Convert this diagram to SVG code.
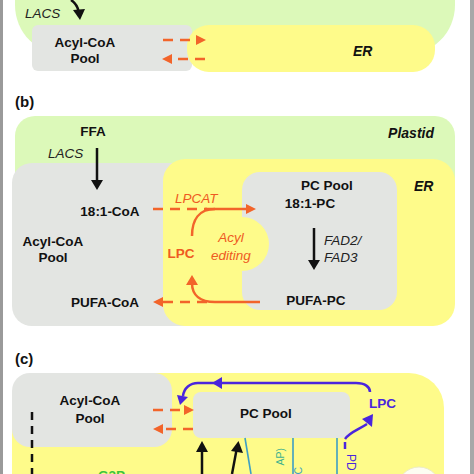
<svg xmlns="http://www.w3.org/2000/svg" width="474" height="474" viewBox="0 0 474 474">
<style>
text{font-family:"Liberation Sans",Arial,sans-serif}
.b{font-weight:bold;font-size:13.5px;fill:#111}
.i{font-style:italic;font-size:13.5px;fill:#222}
.bi{font-weight:bold;font-style:italic;font-size:14px;fill:#111}
.lab{font-weight:bold;font-size:15px;fill:#111}
.oi{font-style:italic;font-size:13.5px;fill:#ee5a22}
.ob{font-weight:bold;font-size:13.5px;fill:#ee5a22}
.green{fill:#dcf9b9}
.yellow{fill:#fefb8a}
.gray{fill:#e3e5e2}
.od{stroke:#f2642a;stroke-width:2.5;fill:none;stroke-dasharray:10 7}
.os{stroke:#f2642a;stroke-width:2.5;fill:none}
.oh{fill:#f2642a}
.bk{stroke:#111;stroke-width:2.5;fill:none}
.bl{stroke:#4a25dd;stroke-width:2.5;fill:none}
.blf{fill:#4a25dd}
.teal{stroke:#3d9fc4;stroke-width:1.6;fill:none}
</style>
<rect width="474" height="474" fill="#fff"/>

<!-- Panel (a) -->
<g id="a-plastid"><rect class="green" x="15" y="-60" width="440" height="115" rx="50"/></g>
<g id="a-acylcoa"><rect class="gray" x="32" y="25" width="160" height="46" rx="6"/>
<text class="b" x="85" y="47" text-anchor="middle">Acyl-CoA</text>
<text class="b" x="85" y="63" text-anchor="middle">Pool</text></g>
<g id="a-er"><rect class="yellow" x="187" y="25" width="248" height="47" rx="22"/>
<text class="bi" x="353" y="56">ER</text></g>
<text class="i" x="25" y="18">LACS</text>

<!-- Panel (b) -->
<text class="lab" x="15" y="107">(b)</text>
<g id="b-plastid"><rect class="green" x="15" y="116" width="440" height="110" rx="20"/>
<text class="bi" x="434" y="138" text-anchor="end">Plastid</text></g>
<g id="b-acylcoa"><rect class="gray" x="12" y="163" width="200" height="163" rx="20"/>
<text class="b" x="93" y="136" text-anchor="middle">FFA</text>
<text class="i" x="48" y="158">LACS</text>
<text class="b" x="110" y="216" text-anchor="middle">18:1-CoA</text>
<text class="b" x="53" y="246" text-anchor="middle">Acyl-CoA</text>
<text class="b" x="53" y="262" text-anchor="middle">Pool</text>
<text class="b" x="105" y="307" text-anchor="middle">PUFA-CoA</text></g>
<g id="b-er"><rect class="yellow" x="163" y="159" width="292" height="167" rx="22"/>
<text class="bi" x="414" y="191">ER</text></g>
<g id="b-pcpool"><rect class="gray" x="242" y="172" width="155" height="138" rx="18"/>
<circle class="yellow" cx="242" cy="244" r="27"/>
<text class="b" x="327" y="190" text-anchor="middle">PC Pool</text>
<text class="b" x="310" y="208" text-anchor="middle">18:1-PC</text>
<text class="i" x="324" y="245">FAD2/</text>
<text class="i" x="324" y="262">FAD3</text>
<text class="b" x="316" y="305" text-anchor="middle">PUFA-PC</text></g>
<g id="b-editing">
<text class="oi" x="175" y="203">LPCAT</text>
<text class="ob" x="181" y="258" text-anchor="middle">LPC</text>
<text class="oi" x="231" y="242" text-anchor="middle">Acyl</text>
<text class="oi" x="231" y="260" text-anchor="middle">editing</text></g>

<!-- Panel (c) -->
<text class="lab" x="15" y="364">(c)</text>
<g id="c-er"><rect class="yellow" x="12" y="373" width="432" height="160" rx="35"/></g>
<g id="c-acylcoa"><rect class="gray" x="12" y="373" width="160" height="74" rx="18"/>
<text class="b" x="90" y="405" text-anchor="middle">Acyl-CoA</text>
<text class="b" x="90" y="423" text-anchor="middle">Pool</text></g>
<g id="c-pcpool"><rect class="gray" x="193" y="392" width="157" height="46" rx="8"/>
<text class="b" x="266" y="418" text-anchor="middle">PC Pool</text></g>
<g id="c-lpc"><text x="369" y="408" style="font-weight:bold;font-size:13.5px;fill:#4a25dd">LPC</text></g>
<g id="c-g3p"><text x="98" y="480" style="font-weight:bold;font-size:13.5px;fill:#3cc43c">G3P</text></g>
<g id="c-oilbody"><ellipse cx="419" cy="490" rx="22" ry="23" fill="#fdfdf2" stroke="#ecebc8" stroke-width="1"/></g>
<g id="c-labels">
<text transform="translate(284,448) rotate(-90)" text-anchor="end" style="font-size:10.5px;fill:#3bb08e">AP)</text>
<text transform="translate(302,467) rotate(-90)" text-anchor="end" style="font-size:10.5px;fill:#3d9fc4">C</text>
<text transform="translate(347,454) rotate(90)" style="font-size:12px;fill:#4a25dd">PD</text></g>

<!-- Connectors -->
<g id="connectors">
<!-- (a) -->
<path class="bk" d="M71,0 Q77,4 78.5,11"/>
<polygon points="73,10 85,9 80,20" fill="#111"/>
<line class="od" x1="163" y1="40" x2="198" y2="40"/>
<polygon class="oh" points="196,35 206,40 196,45"/>
<line class="od" x1="205" y1="59" x2="170" y2="59" stroke-dashoffset="0"/>
<polygon class="oh" points="172,54 162,59 172,64"/>
<!-- (b) -->
<line class="bk" x1="97" y1="148" x2="97" y2="181"/>
<polygon points="91,180 103,180 97,190" fill="#111"/>
<line class="bk" x1="314" y1="228" x2="314" y2="261"/>
<polygon points="308,260 320,260 314,270" fill="#111"/>
<line class="od" x1="153" y1="209" x2="207" y2="209"/>
<path class="os" d="M205,209 H248"/>
<polygon class="oh" points="246,204 256,209 246,214"/>
<path class="os" d="M192,236 C192,220 199,209 215,209"/>
<path class="os" d="M192,283 C192,295 200,302 215,302 H260"/>
<polygon class="oh" points="186,285 198,285 192,275"/>
<line class="od" x1="207" y1="302" x2="162" y2="302"/>
<polygon class="oh" points="163,297 153,302 163,307"/>
<!-- (c) -->
<line class="od" x1="153" y1="410" x2="184" y2="410"/>
<polygon class="oh" points="184,405 194,410 184,415"/>
<line class="od" x1="193" y1="429" x2="163" y2="429"/>
<polygon class="oh" points="163,424 153,429 163,434"/>
<path class="bl" d="M370,392 C370,387 365,383 356,383 H198 C190,383 184,388 183,396"/>
<polygon class="blf" points="222,377 222,389 212,383"/>
<polygon class="blf" points="177,395 188,397 180,405"/>
<path class="bl" d="M345,439 C350,432 358,430 367,424"/>
<polygon class="blf" points="362,419 372,427 373,414"/>
<line class="bl" x1="345" y1="442" x2="345" y2="449"/>
<line class="bk" x1="202" y1="474" x2="202" y2="450"/>
<polygon points="196,452 208,452 202,441" fill="#111"/>
<line class="bk" x1="232" y1="474" x2="236.5" y2="450"/>
<polygon points="231,451 243,453 238.5,441" fill="#111"/>
<line class="teal" x1="245" y1="438" x2="251" y2="474"/>
<line class="teal" x1="293" y1="438" x2="293" y2="474"/>
<line class="teal" x1="337" y1="438" x2="337" y2="474"/>
<line x1="32" y1="412" x2="32" y2="474" stroke="#111" stroke-width="2.5" stroke-dasharray="8 6"/>
</g>

<!-- frame -->
<rect x="0" y="0" width="3" height="474" fill="#9a9a9a"/>
<rect x="470" y="0" width="4" height="474" fill="#a8a8a8"/>
</svg>
